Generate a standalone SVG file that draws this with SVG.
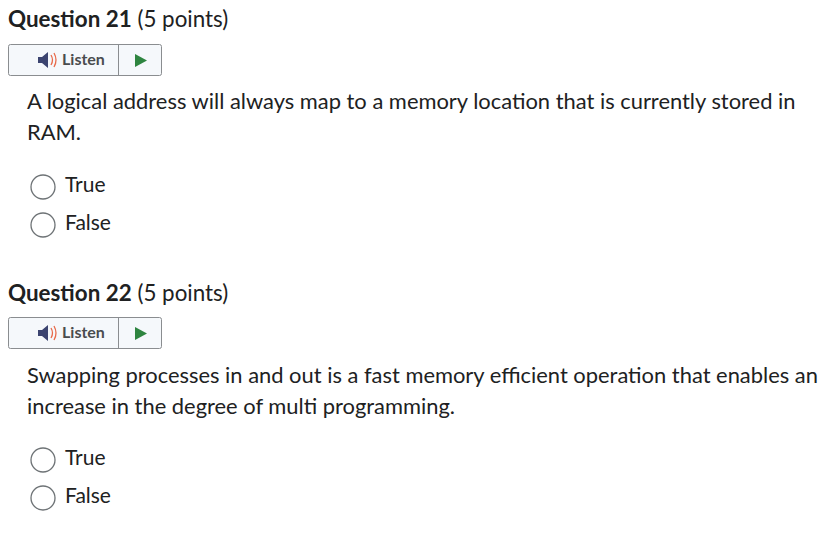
<svg xmlns="http://www.w3.org/2000/svg" width="833" height="542" viewBox="0 0 833 542">
<style>
text{font-family:Lato,"Noto Sans",sans-serif;fill:#202122}
.h{font-size:22.4px}
.b{font-weight:bold}
.p{font-size:21.9px}
.o{font-size:21px}
.l{font-size:16px;font-weight:bold;fill:#494c4e}
.btn{fill:#f5f8fb;stroke:#8a8d90;stroke-width:1}
.rad{fill:#fff;stroke:#6e7376;stroke-width:1.3}
</style>
<rect width="833" height="542" fill="#fff"/>
<g id="q21">
<text x="8" y="27" class="h"><tspan class="b">Question 21</tspan> (5 points)</text>
<rect class="btn" x="8.5" y="44.5" width="153" height="31" rx="2"/>
<line x1="118.5" y1="45" x2="118.5" y2="75" stroke="#8a8d90"/>
<path d="M38 57h4l6-5v16l-6-5h-4z" fill="#3b4470"/>
<path d="M51 55q3 5 0 10M54 53q4 7 0 14" stroke="#e86a4a" fill="none" stroke-width="1.3"/>
<text x="62" y="65" class="l">Listen</text>
<path d="M135 54l12 6.5-12 6.5z" fill="#2e8540"/>
<text x="27" y="109" class="p">A logical address will always map to a memory location that is currently stored in</text>
<text x="27" y="140" class="p">RAM.</text>
<circle class="rad" cx="43" cy="187" r="12"/>
<text x="65" y="192" class="o">True</text>
<circle class="rad" cx="43" cy="225" r="12"/>
<text x="65" y="230" class="o">False</text>
</g>
<g id="q22">
<text x="8" y="301" class="h"><tspan class="b">Question 22</tspan> (5 points)</text>
<rect class="btn" x="8.5" y="317.5" width="153" height="31" rx="2"/>
<line x1="118.5" y1="318" x2="118.5" y2="348" stroke="#8a8d90"/>
<path d="M38 330h4l6-5v16l-6-5h-4z" fill="#3b4470"/>
<path d="M51 328q3 5 0 10M54 326q4 7 0 14" stroke="#e86a4a" fill="none" stroke-width="1.3"/>
<text x="62" y="338" class="l">Listen</text>
<path d="M135 327l12 6.5-12 6.5z" fill="#2e8540"/>
<text x="27" y="383" class="p">Swapping processes in and out is a fast memory efficient operation that enables an</text>
<text x="27" y="414" class="p">increase in the degree of multi programming.</text>
<circle class="rad" cx="43" cy="460" r="12"/>
<text x="65" y="465" class="o">True</text>
<circle class="rad" cx="43" cy="498" r="12"/>
<text x="65" y="503" class="o">False</text>
</g>
</svg>
